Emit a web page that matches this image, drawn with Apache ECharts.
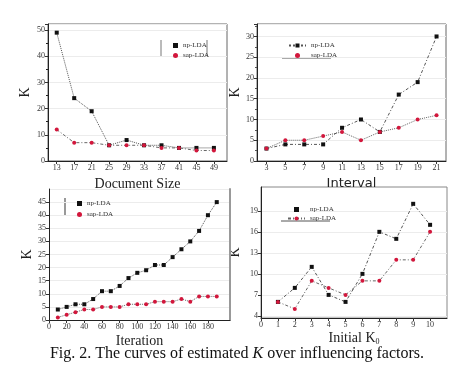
<!DOCTYPE html>
<html><head><meta charset="utf-8">
<script src="https://cdn.jsdelivr.net/npm/echarts@6/dist/echarts.min.js"></script>
<style>html,body{margin:0;padding:0;background:#fff}#c{width:474px;height:382px}</style>
</head><body><div id="c"></div>
<script>
// ---- data ----
const docSize = [13, 17, 21, 25, 29, 33, 37, 41, 45, 49];
const docNp   = [49, 24, 19, 6, 8, 6, 6, 5, 5, 5];
const docSap  = [12, 7, 7, 6, 6, 6, 5, 5, 4, 4];

const intervals = [3, 5, 7, 9, 11, 13, 15, 17, 19, 21];
const intNp     = [3, 4, 4, 4, 8, 10, 7, 16, 19, 30];
const intSap    = [3, 5, 5, 6, 7, 5, 7, 8, 10, 11];

const iterations = [10, 20, 30, 40, 50, 60, 70, 80, 90, 100, 110, 120, 130, 140, 150, 160, 170, 180, 190];
const iterNp     = [4, 5, 6, 6, 8, 11, 11, 13, 16, 18, 19, 21, 21, 24, 27, 30, 34, 40, 45];
const iterSap    = [1, 2, 3, 4, 4, 5, 5, 5, 6, 6, 6, 7, 7, 7, 8, 7, 9, 9, 9];
const iterTicks  = [0, 20, 40, 60, 80, 100, 120, 140, 160, 180];

const initK    = [1, 2, 3, 4, 5, 6, 7, 8, 9, 10];
const initNp   = [6, 8, 11, 7, 6, 10, 16, 15, 20, 17];
const initSap  = [6, 5, 9, 8, 7, 9, 9, 12, 12, 16];
const initXTicks = [0, 1, 2, 3, 4, 5, 6, 7, 8, 9, 10];
const initYTicks = [4, 7, 10, 13, 16, 19];

const seriesNames = ['np-LDA', 'sap-LDA'];

// ---- helpers ----
const zip = (xs, ys) => xs.map((x, i) => [x, ys[i]]);
const RED = '#d2173c';
const SERIF = 'Liberation Serif';
const lbl = {fontFamily: SERIF, fontSize: 8, color: '#333', margin: 3};
const nameStyle = {fontFamily: SERIF, fontSize: 14, color: '#222'};
const gridLine = {show: true, lineStyle: {color: '#ececec', width: 1}};
const axLine = {show: true, lineStyle: {color: '#222', width: 1}};

function xAx(idx, min, max, ticks, name, gap, extra) {
  return Object.assign({
    type: 'value', gridIndex: idx, min, max, name, nameLocation: 'middle', nameGap: gap,
    nameTextStyle: nameStyle,
    axisLine: axLine, axisTick: {show: true, length: 3, customValues: ticks, lineStyle: {color: '#333'}},
    axisLabel: Object.assign({customValues: ticks}, lbl),
    splitLine: {show: false}
  }, extra || {});
}
function yAx(idx, min, max, opt) {
  return Object.assign({
    type: 'value', gridIndex: idx, min, max, name: 'K', nameLocation: 'middle', nameGap: 16,
    nameTextStyle: {fontFamily: SERIF, fontSize: 14, color: '#222'},
    axisLine: axLine, axisTick: {show: true, length: 3, lineStyle: {color: '#333'}},
    minorTick: {show: true, splitNumber: 2, length: 2, lineStyle: {color: '#555'}},
    axisLabel: Object.assign({showMaxLabel: false}, lbl),
    splitLine: gridLine
  }, opt || {});
}
function npSeries(idx, data, dash) {
  return {name: 'np-LDA', type: 'line', xAxisIndex: idx, yAxisIndex: idx, data,
    symbol: 'rect', symbolSize: 4, itemStyle: {color: '#111'},
    lineStyle: {color: '#555', width: 1, type: dash || 'dotted'}, z: 3};
}
function sapSeries(idx, data, dash) {
  return {name: 'sap-LDA', type: 'line', xAxisIndex: idx, yAxisIndex: idx, data,
    symbol: 'circle', symbolSize: 4, itemStyle: {color: RED},
    lineStyle: {color: '#666', width: 1, type: dash || [3, 2, 1, 2]}, z: 4};
}
const sq = 'path://M0,0L1,0L1,1L0,1Z';
const legText = {fontFamily: SERIF, fontSize: 7, color: '#333'};

const option = {
  animation: false,
  backgroundColor: '#fff',
  grid: [
    {left: 48, top: 24, width: 179, height: 137, show: true, borderColor: '#666', borderWidth: 1},
    {left: 257, top: 24, width: 189, height: 137, show: true, borderColor: '#666', borderWidth: 1},
    {left: 49, top: 189, width: 181, height: 131, show: false},
    {left: 261, top: 187, width: 186, height: 131, show: true, borderColor: '#888', borderWidth: 1}
  ],
  xAxis: [
    xAx(0, 11, 52, docSize, 'Document Size', 16),
    xAx(1, 2, 22, intervals, 'Interval', 16, {nameTextStyle: {fontFamily: 'DejaVu Sans', fontSize: 13, color: '#222'}}),
    xAx(2, 0, 205, iterTicks, 'Iteration', 14),
    xAx(3, 0, 11, initXTicks, 'Initial K{s|0}', 12, {nameTextStyle: Object.assign({rich: {s: {fontFamily: SERIF, fontSize: 8, verticalAlign: 'bottom', padding: [8, 0, 0, 0]}}}, nameStyle)})
  ],
  yAxis: [
    yAx(0, 0, 52.3, {interval: 10, minorTick: {show: true, splitNumber: 2, length: 2}}),
    yAx(1, 0, 33, {interval: 5, nameGap: 15}),
    yAx(2, 0, 50, {interval: 5, nameGap: 14, minorTick: {show: false}}),
    yAx(3, 3.7, 22.4, {nameGap: 19, minorTick: {show: false},
      axisTick: {show: true, length: 3, customValues: initYTicks, lineStyle: {color: '#333'}},
      axisLabel: Object.assign({customValues: initYTicks}, lbl)}),
    {type: 'value', gridIndex: 2, min: 0, max: 50, position: 'right', axisLine: {show: true, lineStyle: {color: '#999', width: 2}},
      axisTick: {show: false}, axisLabel: {show: false}, splitLine: {show: false}}
  ],
  legend: [
    {left: 168, top: 37, orient: 'vertical', itemGap: 3, itemWidth: 5, itemHeight: 5, symbolKeepAspect: true, textStyle: legText,
      data: [{name: seriesNames[0], icon: sq}, {name: seriesNames[1], icon: 'circle'}]},
    {left: 283, top: 37, orient: 'vertical', itemGap: 3, itemWidth: 17, itemHeight: 5, textStyle: legText,
      data: [{name: seriesNames[0]}, {name: seriesNames[1], icon: 'circle'}]},
    {left: 72, top: 195, orient: 'vertical', itemGap: 4, itemWidth: 5, itemHeight: 5, symbolKeepAspect: true, textStyle: legText,
      data: [{name: seriesNames[0], icon: sq}, {name: seriesNames[1], icon: 'circle'}]},
    {left: 282, top: 201, orient: 'vertical', itemGap: 2, itemWidth: 17, itemHeight: 5, symbolKeepAspect: true, textStyle: legText,
      data: [{name: seriesNames[0], icon: sq}, {name: seriesNames[1]}]}
  ],
  series: [
    npSeries(0, zip(docSize, docNp)), sapSeries(0, zip(docSize, docSap)),
    npSeries(1, zip(intervals, intNp), [3, 2, 1, 2]), sapSeries(1, zip(intervals, intSap), 'dotted'),
    npSeries(2, zip(iterations, iterNp)), sapSeries(2, zip(iterations, iterSap), 'dotted'),
    npSeries(3, zip(initK, initNp), [3, 2, 1, 2]), sapSeries(3, zip(initK, initSap), [3, 2, 1, 2])
  ],
  graphic: [
    {type: 'line', shape: {x1: 161, y1: 40, x2: 161, y2: 57}, style: {stroke: '#777', lineWidth: 1}},
    {type: 'line', shape: {x1: 207, y1: 40, x2: 207, y2: 57}, style: {stroke: '#777', lineWidth: 1}},
    {type: 'line', shape: {x1: 282, y1: 58, x2: 331, y2: 58}, style: {stroke: '#555', lineWidth: 1}},
    {type: 'line', shape: {x1: 65, y1: 198, x2: 65, y2: 216}, style: {stroke: '#999', lineWidth: 2}},
    {type: 'line', shape: {x1: 281, y1: 221, x2: 330, y2: 221}, style: {stroke: '#555', lineWidth: 1}},
    {type: 'text', left: 'center', top: 346, style: {
      text: 'Fig. 2. The curves of estimated {i|K} over influencing factors.',
      font: '16px "Liberation Serif"', fill: '#111',
      rich: {i: {fontStyle: 'italic', fontFamily: SERIF, fontSize: 16}}}}
  ]
};
const chart = echarts.init(document.getElementById('c'), null, {renderer: 'canvas'});
chart.setOption(option);
</script></body></html>
